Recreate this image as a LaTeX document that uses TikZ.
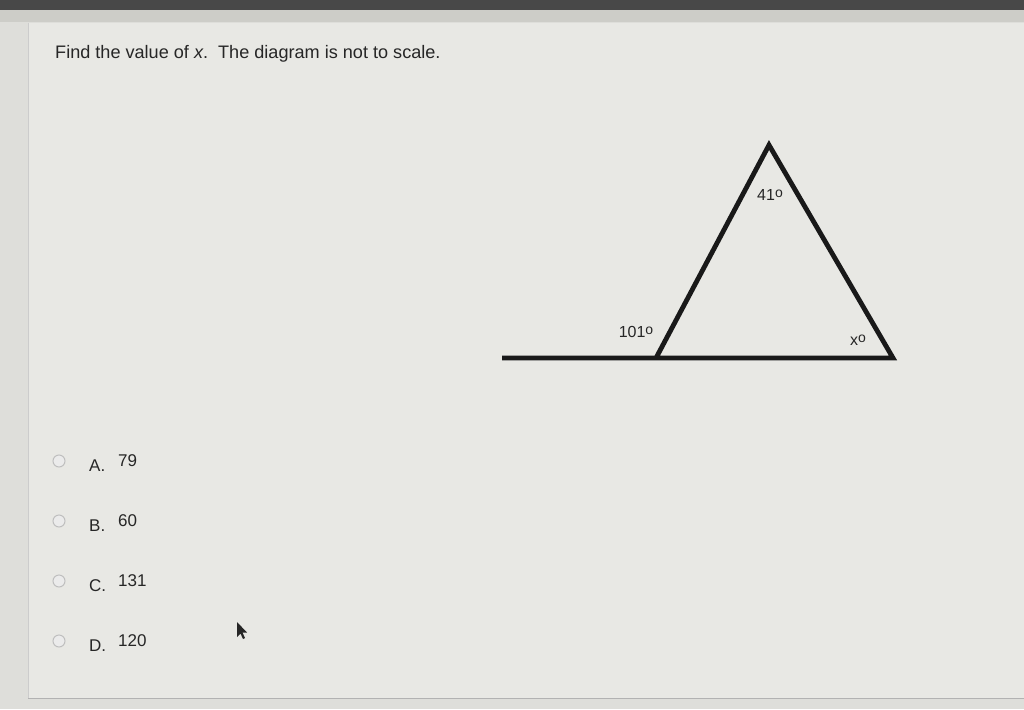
\documentclass[tikz,border=0pt]{standalone}
\usepackage{fontspec}
\setmainfont{Liberation Sans}
\begin{document}
\begin{tikzpicture}[x=1pt,y=-1pt,
  txt/.style={font=\fontsize{17}{20}\selectfont, text=black!85, inner sep=0pt, anchor=base west},
  qtxt/.style={font=\fontsize{18.1}{21}\selectfont, text=black!85, inner sep=0pt, anchor=base west},
  lbl/.style={font=\fontsize{16}{19}\selectfont, text=black!85, inner sep=0pt},
  radio/.style={draw=black!25, line width=1pt, fill=white!92!black},
  edge/.style={line width=4.8pt, line cap=butt, line join=miter, black!90}]
\definecolor{bg}{RGB}{222,222,218}
\definecolor{panel}{RGB}{232,232,228}
\definecolor{bar}{RGB}{72,72,72}
\definecolor{strip}{RGB}{205,205,200}
\useasboundingbox (0,0) rectangle (1024,709);
\fill[bg] (0,0) rectangle (1024,709);
\fill[bar] (0,0) rectangle (1024,10);
\fill[strip] (0,10) rectangle (1024,22);
\fill[panel] (28,23) rectangle (1024,698);
\draw[black!30, line width=0.8pt] (28,698) -- (1024,698);
\draw[black!20, line width=0.8pt] (28,23) -- (28,698);
% question
\node[qtxt] (q) at (55,59) {Find the value of \textit{x}.\ \ The diagram is not to scale.};
% triangle
\coordinate (L) at (502,358);
\coordinate (A) at (656,358);
\coordinate (T) at (769,145);
\coordinate (R) at (893,358);
\draw[edge] (L) -- (R) -- (T) -- (A);
\node[lbl] (a41) at (770,195) {41\raisebox{0.35ex}{\fontsize{14}{14}\selectfont o}};
\node[lbl] (a101) at (636,332) {101\raisebox{0.35ex}{\fontsize{14}{14}\selectfont o}};
\node[lbl] (ax) at (858,340) {x\raisebox{0.35ex}{\fontsize{14}{14}\selectfont o}};
% answers
\foreach \y/\l/\v [count=\i] in {461/A./79, 521/B./60, 581/C./131, 641/D./120} {
  \draw[radio] (59,\y) circle (6);
  \node[txt] (l\i) at (89,\y+10) {\l};
  \node[txt] (v\i) at (118,\y+5) {\v};
}
% cursor
\fill[black!85] (237,622) -- (237,637) -- (240.5,633.5) -- (243,639) -- (245,638) -- (242.5,632.5) -- (247,632.5) -- cycle;
\end{tikzpicture}
\end{document}
